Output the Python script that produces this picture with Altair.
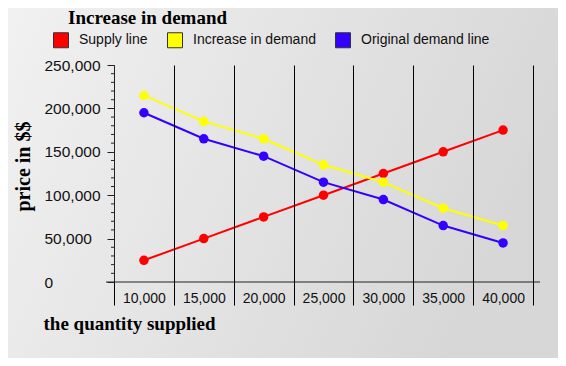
import altair as alt
import pandas as pd

quantities = ["10,000", "15,000", "20,000", "25,000", "30,000", "35,000", "40,000"]
supply_line = [25000, 50000, 75000, 100000, 125000, 150000, 175000]
increase_in_demand = [215000, 185000, 165000, 135000, 115000, 85000, 65000]
original_demand = [195000, 165000, 145000, 115000, 95000, 65000, 45000]

series_names = ["Supply line", "Increase in demand", "Original demand line"]
series_colors = ["#ff0000", "#ffff00", "#3300ff"]
y_major = [0, 50000, 100000, 150000, 200000, 250000]
y_minor = [v for v in range(0, 250001, 10000) if v % 50000 != 0]
chart_title = "Increase in demand"

rows = []
for name, vals in zip(series_names, [supply_line, increase_in_demand, original_demand]):
    for q, v in zip(quantities, vals):
        rows.append({"quantity": q, "price": v, "series": name})
df = pd.DataFrame(rows)

W, H = 426, 217
PL, PT, PR, PB = 106, 57, 18, 76

xscale = alt.Scale(domain=quantities, paddingInner=0, paddingOuter=0.0585, align=0)
yscale = alt.Scale(domain=[0, 250000], nice=False, zero=True)
cscale = alt.Scale(domain=series_names, range=series_colors)

bg = alt.Chart(pd.DataFrame({"a": [0]})).mark_rect(
    color=alt.LinearGradient(
        gradient="linear",
        stops=[alt.GradientStop(color="#f1f1f1", offset=0),
               alt.GradientStop(color="#d7d7d7", offset=1)],
        x1=0, x2=1, y1=0, y2=0.3,
    )
).encode(
    x=alt.value(-PL), x2=alt.value(W + PR),
    y=alt.value(-PT), y2=alt.value(H + PB),
)

title_text = alt.Chart(pd.DataFrame({"t": [chart_title]})).mark_text(
    font="Liberation Serif", fontSize=19, fontWeight="bold", color="#000000",
    align="left", baseline="alphabetic",
).encode(text="t:N", x=alt.value(-46), y=alt.value(-41))

minor = alt.Chart(pd.DataFrame({"v": y_minor})).mark_rule(color="#222222", strokeWidth=1).encode(
    y=alt.Y("v:Q", scale=yscale),
    x=alt.value(-3), x2=alt.value(0),
)

baseline = alt.Chart(pd.DataFrame({"v": [0]})).mark_rule(color="#222222", strokeWidth=1).encode(
    y=alt.Y("v:Q", scale=yscale),
    x=alt.value(-8), x2=alt.value(W),
)

x_enc = alt.X(
    "quantity:N", sort=quantities, scale=xscale,
    axis=alt.Axis(
        title="the quantity supplied", titleFont="Liberation Serif", titleFontSize=19,
        titleFontWeight="bold", titleColor="#000000", titleAnchor="start", titleAlign="left",
        titleX=-71, titleY=47, titleBaseline="alphabetic",
        labelFont="Liberation Sans", labelFontSize=14, labelColor="#111111", labelAngle=0,
        labelBaseline="top", labelPadding=-14,
        tickBand="extent", tickSize=23, tickColor="#000000", tickWidth=1,
        grid=True, gridColor="#000000", gridOpacity=1, gridWidth=1,
        domain=False, zindex=1,
    ),
)
y_enc = alt.Y(
    "price:Q", scale=yscale,
    axis=alt.Axis(
        values=y_major, format=",d",
        title="price in $$", titleFont="Liberation Serif", titleFontSize=20,
        titleFontWeight="bold", titleColor="#000000", titleAngle=-90,
        titleX=-91, titleY=101, titleAlign="center", titleBaseline="middle",
        labelFont="Liberation Sans", labelFontSize=15.5, labelColor="#111111",
        labelAlign="left", labelBaseline="middle", labelPadding=63,
        tickSize=7, tickColor="#222222", domainColor="#222222",
        grid=False, zindex=1,
    ),
)

lines = alt.Chart(df).mark_line(strokeWidth=2).encode(
    x=x_enc, y=y_enc,
    color=alt.Color("series:N", scale=cscale, legend=None),
    detail="series:N",
)

points = alt.Chart(df).mark_circle(size=90, opacity=1).encode(
    x=x_enc, y=y_enc,
    color=alt.Color(
        "series:N", scale=cscale,
        legend=alt.Legend(
            title=None, orient="none", direction="horizontal", legendX=-61, legendY=-33,
            symbolType="square", symbolSize=225, symbolStrokeColor="#333333",
            symbolStrokeWidth=1, symbolOpacity=1,
            labelFont="Liberation Sans", labelFontSize=14, labelColor="#111111",
            labelOffset=10, columnPadding=17, padding=0, zindex=1,
        ),
    ),
)

chart = alt.layer(bg, title_text, minor, baseline, lines, points).resolve_scale(
    color="independent"
).properties(
    width=W, height=H,
    autosize=alt.AutoSizeParams(type="none"),
    padding={"left": PL, "top": PT, "right": PR, "bottom": PB},
    background="#e6e6e6",
).configure_view(strokeOpacity=0)

chart.save("out.html", embed_options={"renderer": "svg", "actions": False})
